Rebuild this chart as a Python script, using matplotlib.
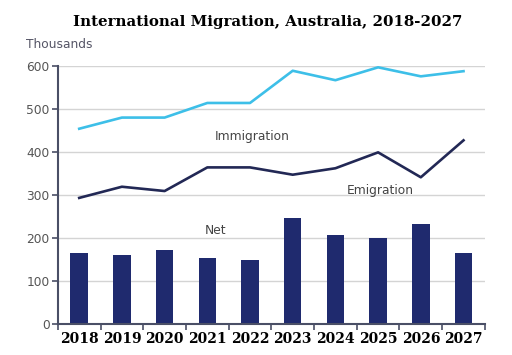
import numpy as np
import matplotlib
matplotlib.use('Agg')
import matplotlib.pyplot as plt

years = ['2018', '2019', '2020', '2021', '2022', '2023', '2024', '2025', '2026', '2027']
immigration = [454, 480, 480, 514, 514, 589, 567, 597, 576, 588]
emigration = [293, 319, 309, 364, 364, 347, 362, 399, 341, 427]
net = [165, 159, 171, 154, 148, 247, 207, 199, 233, 165]

xx = np.arange(len(years))

fig = plt.figure(figsize=(5.12, 3.55), dpi=100)
ax = fig.add_axes([0.113, 0.088, 0.834, 0.726])

# gridlines behind everything
ax.set_axisbelow(True)
ax.grid(axis='y', color='#d4d4d4', linewidth=1.0)

ax.bar(xx, net, width=0.41, color='#1f2a6e', zorder=2)
ax.plot(xx, immigration, color='#3dbfe8', linewidth=1.9, zorder=3)
ax.plot(xx, emigration, color='#222855', linewidth=1.9, zorder=3)

ax.text(4.05, 435, 'Immigration', fontsize=8.8, color='#444444', ha='center', va='center')
ax.text(7.05, 311, 'Emigration', fontsize=8.8, color='#444444', ha='center', va='center')
ax.text(3.2, 216, 'Net', fontsize=8.8, color='#444444', ha='center', va='center')

ax.set_xlim(-0.5, len(years) - 0.5)
ax.set_ylim(0, 600)
ax.set_yticks(range(0, 601, 100))
ax.tick_params(axis='y', labelsize=8.8, labelcolor='#555555', color='#4a4f66',
               length=4, width=1.2, pad=2)

# category labels at centres, tick marks at slot boundaries
ax.set_xticks(xx)
ax.set_xticklabels(years, fontfamily='DejaVu Serif', fontweight='bold', fontsize=10)
ax.tick_params(axis='x', which='major', length=0, pad=6)
ax.set_xticks(np.arange(-0.5, len(years)), minor=True)
ax.tick_params(axis='x', which='minor', length=4, width=1.2, color='#4a4f66')

for side in ['top', 'right']:
    ax.spines[side].set_visible(False)
for side in ['left', 'bottom']:
    ax.spines[side].set_color('#4a4f66')
    ax.spines[side].set_linewidth(1.5)

fig.text(0.05, 0.875, 'Thousands', fontsize=8.8, color='#555566', ha='left', va='center')
fig.text(0.523, 0.937, 'International Migration, Australia, 2018-2027',
         fontfamily='DejaVu Serif', fontweight='bold', fontsize=10.8, ha='center', va='center')

fig.savefig('out.png', dpi=100)
